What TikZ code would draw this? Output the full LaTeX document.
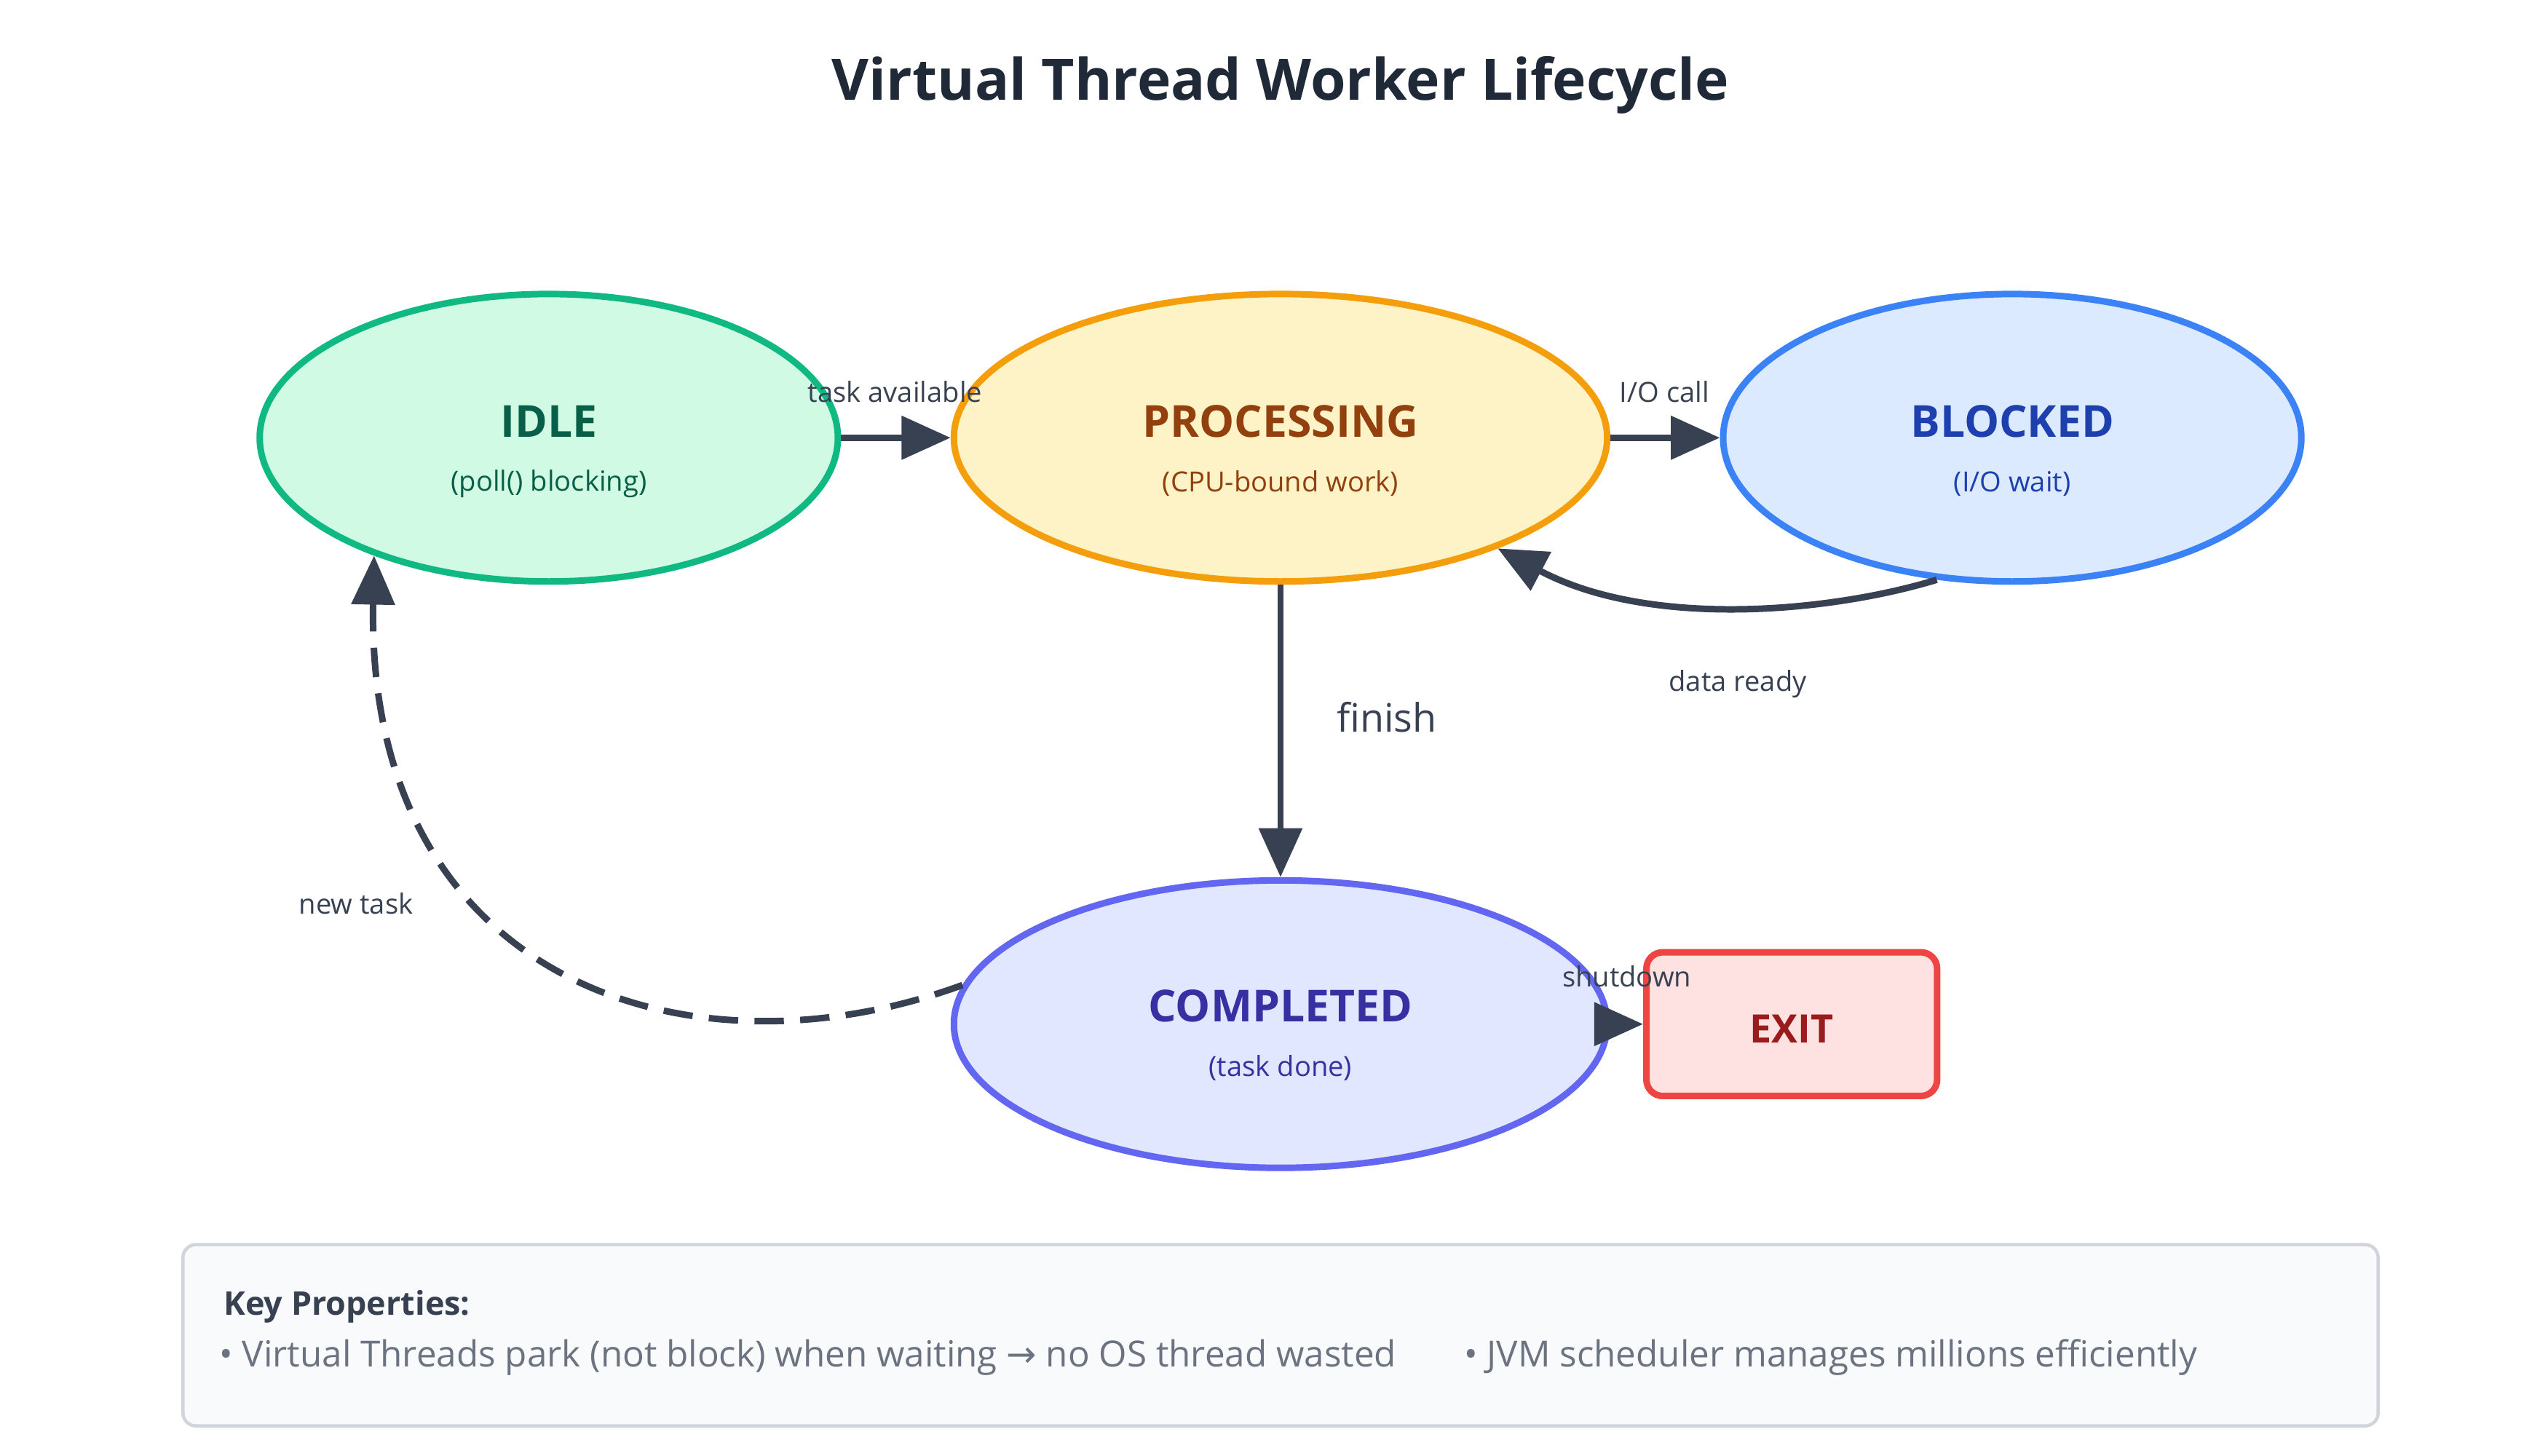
\documentclass[tikz,border=0pt]{standalone}
\usepackage{fontspec}
\setmainfont{Open Sans}
\newfontfamily\symf{DejaVu Sans}
\usetikzlibrary{shapes.geometric,arrows.meta}
\definecolor{ink}{HTML}{374151}
\definecolor{ttl}{HTML}{1F2937}
\definecolor{iS}{HTML}{10B981}\definecolor{iF}{HTML}{D1FAE5}\definecolor{iT}{HTML}{065F46}
\definecolor{pS}{HTML}{F59E0B}\definecolor{pF}{HTML}{FEF3C7}\definecolor{pT}{HTML}{92400E}
\definecolor{bS}{HTML}{3B82F6}\definecolor{bF}{HTML}{DBEAFE}\definecolor{bT}{HTML}{1E40AF}
\definecolor{cS}{HTML}{6366F1}\definecolor{cF}{HTML}{E0E7FF}\definecolor{cT}{HTML}{3730A3}
\definecolor{eS}{HTML}{EF4444}\definecolor{eF}{HTML}{FEE2E2}\definecolor{eT}{HTML}{991B1B}
\definecolor{gS}{HTML}{D1D5DB}\definecolor{gF}{HTML}{F8FAFC}\definecolor{gT}{HTML}{6B7280}
\begin{document}
\begin{tikzpicture}[x=0.5pt,y=-0.5pt,
  st/.style={ellipse,line width=2pt,inner sep=0pt,minimum height=88pt},
  arr/.style={draw=ink,line width=2pt,-{Triangle[length=15pt,width=13pt]}},
  lab/.style={text=ink,font=\fontsize{8.5}{11}\selectfont},
  big/.style={font=\bfseries\fontsize{13.5}{17}\selectfont},
  sub/.style={font=\fontsize{8.5}{11}\selectfont}]
\useasboundingbox (0,0) rectangle (1560,891);
\node[font=\bfseries\fontsize{17.5}{22}\selectfont,text=ttl] (title) at (784,52) {Virtual Thread Worker Lifecycle};
\node[st,draw=iS,fill=iF,minimum width=177pt] (idle) at (336,268) {};
\node[st,draw=pS,fill=pF,minimum width=200pt] (proc) at (784,268) {};
\node[st,draw=bS,fill=bF,minimum width=177pt] (blk) at (1232,268) {};
\node[st,draw=cS,fill=cF,minimum width=200pt] (comp) at (784,627) {};
\node[draw=eS,fill=eF,line width=2pt,rounded corners=5pt,minimum width=89pt,minimum height=44pt] (exit) at (1097,627) {};
\node[big,text=iT] (t1) at (336,258) {IDLE};
\node[sub,text=iT] (s1) at (336,296) {(poll() blocking)};
\node[big,text=pT] (t2) at (784,258) {PROCESSING};
\node[sub,text=pT] (s2) at (784,296) {(CPU-bound work)};
\node[big,text=bT] (t3) at (1232,258) {BLOCKED};
\node[sub,text=bT] (s3) at (1232,296) {(I/O wait)};
\node[big,text=cT] (t4) at (784,616) {COMPLETED};
\node[sub,text=cT] (s4) at (784,654) {(task done)};
\node[font=\bfseries\fontsize{12}{14}\selectfont,text=eT] (t5) at (1097,630) {EXIT};
\draw[arr] (idle.east) -- (proc.west);
\node[lab] (l1) at (548,240) {task available};
\draw[arr] (proc.east) -- (blk.west);
\node[lab] (l2) at (1019,240) {I/O call};
\draw[arr] (blk.242.8) .. controls (1120,375) and (1010,385) .. (proc.-27);
\node[lab] (l3) at (1064,419) {data ready};
\draw[arr] (proc.south) -- (comp.north);
\node[text=ink,font=\fontsize{12}{14}\selectfont] (l4) at (849,439) {finish};
\draw[arr,dashed,dash pattern=on 9pt off 5pt] (comp.173) .. controls (420,665) and (224,600) .. (idle.214);
\node[lab] (l5) at (218,553) {new task};
\draw[arr] (comp.east) -- (exit.west);
\node[lab] (l6) at (996,598) {shutdown};
\node[draw=gS,fill=gF,line width=1pt,rounded corners=4pt,minimum width=672pt,minimum height=55.5pt] (leg) at (784,817.5) {};
\node[anchor=west,text=ink,font=\bfseries\fontsize{10}{12}\selectfont] (k) at (130,800) {Key Properties:};
\node[anchor=west,text=gT,font=\fontsize{11}{14}\selectfont,inner sep=0pt] (k1) at (134,831) {• Virtual Threads park (not block) when waiting {\symf →} no OS thread wasted};
\node[anchor=west,text=gT,font=\fontsize{11}{14}\selectfont,inner sep=0pt] (k2) at (896,831) {• JVM scheduler manages millions efficiently};
\end{tikzpicture}
\end{document}
